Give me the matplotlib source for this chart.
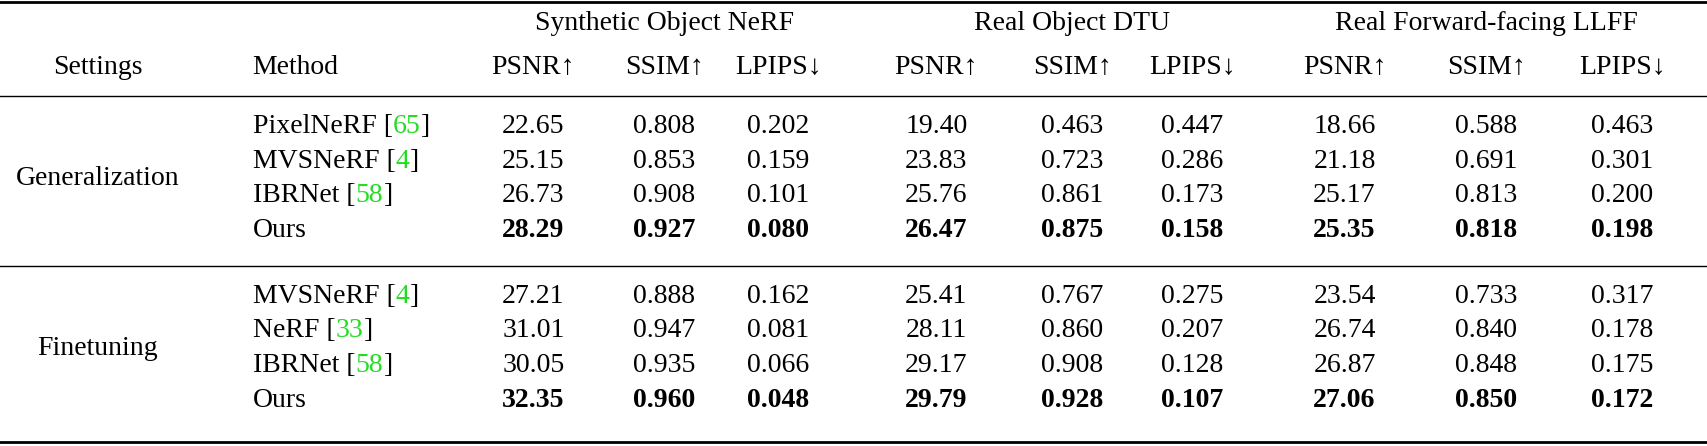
import matplotlib
matplotlib.use("Agg")
import matplotlib.pyplot as plt

groups = ["Synthetic Object NeRF", "Real Object DTU", "Real Forward-facing LLFF"]
metrics = ["PSNR↑", "SSIM↑", "LPIPS↓"]
settings = ["Generalization", "Finetuning"]
methods = [[("PixelNeRF", "65"), ("MVSNeRF", "4"), ("IBRNet", "58"), ("Ours", None)],
           [("MVSNeRF", "4"), ("NeRF", "33"), ("IBRNet", "58"), ("Ours", None)]]
values = [
    [["22.65", "0.808", "0.202", "19.40", "0.463", "0.447", "18.66", "0.588", "0.463"],
     ["25.15", "0.853", "0.159", "23.83", "0.723", "0.286", "21.18", "0.691", "0.301"],
     ["26.73", "0.908", "0.101", "25.76", "0.861", "0.173", "25.17", "0.813", "0.200"],
     ["28.29", "0.927", "0.080", "26.47", "0.875", "0.158", "25.35", "0.818", "0.198"]],
    [["27.21", "0.888", "0.162", "25.41", "0.767", "0.275", "23.54", "0.733", "0.317"],
     ["31.01", "0.947", "0.081", "28.11", "0.860", "0.207", "26.74", "0.840", "0.178"],
     ["30.05", "0.935", "0.066", "29.17", "0.908", "0.128", "26.87", "0.848", "0.175"],
     ["32.35", "0.960", "0.048", "29.79", "0.928", "0.107", "27.06", "0.850", "0.172"]],
]

W, H = 1707, 446
S = 1707 / 1568
fig = plt.figure(figsize=(W / 100, H / 100), dpi=100)
FAM = ["Liberation Serif", "DejaVu Serif"]
FS = 20
GREEN = "#22dd22"

def P(x, y):
    return (x * S / W, 1 - y * S / H)

def txt(x, y, s, ha="center", bold=False, color="black"):
    return fig.text(*P(x, y), s, ha=ha, va="center", fontsize=FS, family=FAM,
                    fontweight="bold" if bold else "normal", color=color)

def rule(y, lw):
    fig.add_artist(plt.Line2D([0, 1], [P(0, y)[1]] * 2, color="black", lw=lw))

rule(2, 2.0)
rule(88, 1.0)
rule(244, 1.0)
rule(406, 2.0)

cols = [490, 610, 715, 860, 985, 1095, 1235, 1365, 1490]
for g, gname in enumerate(groups):
    txt(cols[3 * g + 1], 22, gname)
    for m, mname in enumerate(metrics):
        txt(cols[3 * g + m], 62, mname)
txt(90, 62, "Settings")
txt(232, 62, "Method", ha="left")

fig.canvas.draw()
r = fig.canvas.get_renderer()
row_y = [[116, 148, 180, 212], [272, 304, 336, 368]]
for b in range(2):
    txt(90, (row_y[b][1] + row_y[b][2]) / 2, settings[b])
    for i, (name, cite) in enumerate(methods[b]):
        y = row_y[b][i]
        if cite is None:
            txt(232, y, name, ha="left")
        else:
            t = txt(232, y, name + " [", ha="left")
            x = t.get_window_extent(r).x1
            t2 = fig.text(x / W, P(0, y)[1], cite, ha="left", va="center", fontsize=FS,
                          family=FAM, color=GREEN)
            x = t2.get_window_extent(r).x1
            fig.text(x / W, P(0, y)[1], "]", ha="left", va="center", fontsize=FS, family=FAM)
        for j, v in enumerate(values[b][i]):
            txt(cols[j], y, v, bold=(name == "Ours"))

fig.savefig("out.png", dpi=100, facecolor="white")
